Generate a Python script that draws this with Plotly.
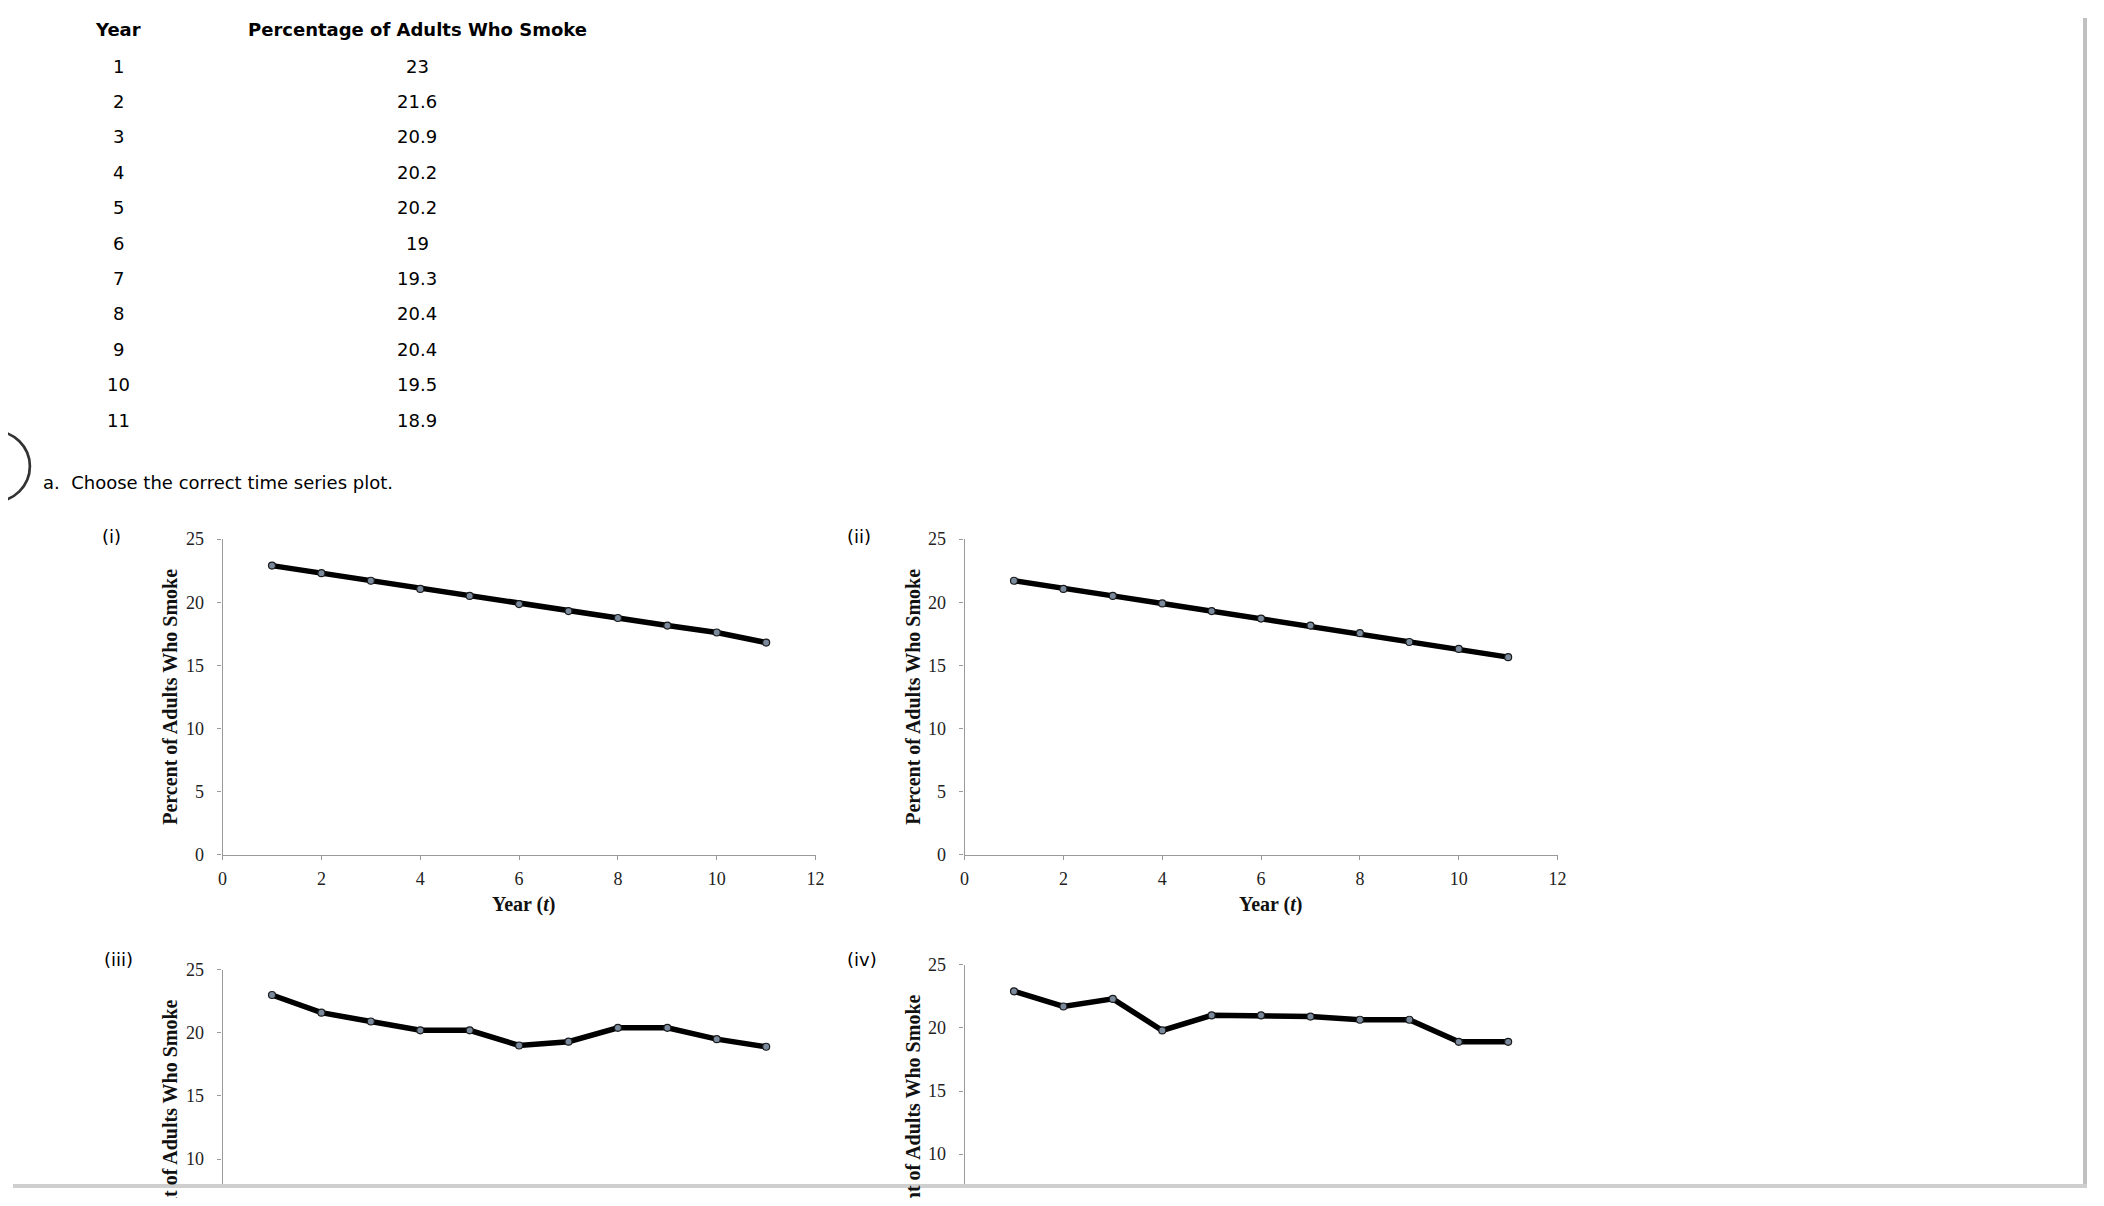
import plotly.graph_objects as go

# page is 2104x1206; the browser body keeps an 8px margin, so the figure is
# 16px smaller and every pixel position below is a page position.
PAGE_W, PAGE_H = 2104, 1206
OFF = 8
W, H = PAGE_W - 2 * OFF, PAGE_H - 2 * OFF

# ---------------- data ----------------
years = [1, 2, 3, 4, 5, 6, 7, 8, 9, 10, 11]
table_pct = ["23", "21.6", "20.9", "20.2", "20.2", "19", "19.3", "20.4", "20.4", "19.5", "18.9"]

plot_i = [22.9, 22.3, 21.7, 21.05, 20.5, 19.85, 19.3, 18.75, 18.15, 17.6, 16.8]
plot_ii = [21.7, 21.05, 20.5, 19.9, 19.3, 18.7, 18.15, 17.55, 16.85, 16.3, 15.65]
plot_iii = [23.0, 21.6, 20.9, 20.2, 20.2, 19.0, 19.3, 20.4, 20.4, 19.5, 18.9]
plot_iv = [22.9, 21.7, 22.3, 19.8, 21.0, 21.0, 20.9, 20.65, 20.65, 18.9, 18.9]

x_ticks = [0, 2, 4, 6, 8, 10, 12]
y_ticks = [0, 5, 10, 15, 20, 25]

header_year = "Year"
header_pct = "Percentage of Adults Who Smoke"
question = "a.  Choose the correct time series plot."
option_labels = ["(i)", "(ii)", "(iii)", "(iv)"]
y_title = "Percent of Adults Who Smoke"
x_title = "<b>Year (<i>t</i>)</b>"


def px(x):
    return (x - OFF) / W


def py(y):
    return 1 - (y - OFF) / H


fig = go.Figure()

series = [plot_i, plot_ii, plot_iii, plot_iv]
for k, vals in enumerate(series):
    ax = "" if k == 0 else str(k + 1)
    fig.add_trace(go.Scatter(
        x=years, y=vals, mode="lines+markers",
        xaxis="x" + ax, yaxis="y" + ax,
        line=dict(color="#000000", width=5.5),
        marker=dict(symbol="circle", size=7, color="#7a8a9c",
                    line=dict(color="#1a1a1a", width=1.2)),
        showlegend=False, hoverinfo="skip", cliponaxis=False,
    ))

tick_font = dict(family="Liberation Serif, Times New Roman, serif", size=18, color="#222222")
axis_common = dict(showgrid=False, zeroline=False, showline=True,
                   linecolor="#9a9a9a", linewidth=1.2, ticks="outside",
                   ticklen=4, tickcolor="#9a9a9a", tickwidth=1.2,
                   tickfont=tick_font, fixedrange=True)

# pixel geometry of each panel on the page: (x_left, x_right, y_top_for_25, y_bottom)
bottom = PAGE_H - OFF
panels = [
    (219, 816, 538, 859),
    (966, 1563, 538, 859),
    (219, 816, 976, bottom),
    (966, 1563, 971, bottom),
]
unit = (859 - 538) / 25.0

layout = dict(width=W, height=H, margin=dict(l=0, r=0, t=0, b=0),
              paper_bgcolor="white", plot_bgcolor="white", showlegend=False)

for k, (xl, xr, yt, yb) in enumerate(panels):
    ax = "" if k == 0 else str(k + 1)
    ymin = 25 - (yb - yt) / unit
    xa = dict(axis_common, domain=[px(xl), px(xr)], range=[0, 12],
              tickvals=x_ticks, anchor="y" + ax, ticklabelstandoff=4)
    ya = dict(axis_common, domain=[py(yb), py(yt)], range=[ymin, 25],
              tickvals=y_ticks, anchor="x" + ax, ticklabelstandoff=10)
    if k >= 2:
        xa.update(showline=False, showticklabels=False, ticks="")
    layout["xaxis" + ax] = xa
    layout["yaxis" + ax] = ya

fig.update_layout(**layout)

sans = "DejaVu Sans, Verdana, sans-serif"
serif = "Liberation Serif, Times New Roman, serif"
ann = []


def add_text(x, y, text, font, xanchor="center", angle=0):
    ann.append(dict(x=px(x), y=py(y), xref="paper", yref="paper", text=text,
                    showarrow=False, xanchor=xanchor, yanchor="middle",
                    textangle=angle, font=font))


f_sans = dict(family=sans, size=18, color="#000")
# table
add_text(114, 20, "<b>" + header_year + "</b>", f_sans)
add_text(415, 20, "<b>" + header_pct + "</b>", f_sans)
for i, (yr, pv) in enumerate(zip(years, table_pct)):
    yy = 57 + i * 36
    add_text(114, yy, str(yr), f_sans)
    add_text(415, yy, pv, f_sans)
add_text(36, 480, question, f_sans, xanchor="left")

# option labels
label_pos = [(107, 535), (860, 535), (114, 966), (863, 966)]
for lab, (lx, ly) in zip(option_labels, label_pos):
    add_text(lx, ly, lab, f_sans)

# axis titles
f_serif = dict(family=serif, size=20, color="#111")
ytitle_pos = [(166, 698.5), (914, 698.5), (166, 976 + 12.5 * unit), (914, 971 + 12.5 * unit)]
for (tx, ty) in ytitle_pos:
    add_text(tx, ty, "<b>" + y_title + "</b>", f_serif, angle=-90)
for tx in (522, 1274):
    add_text(tx, 910, x_title, f_serif)

fig.update_layout(annotations=ann)

shapes = [
    dict(type="circle", xref="paper", yref="paper",
         x0=px(-11 - 36), x1=px(-11 + 36), y0=py(464 + 36), y1=py(464 - 36),
         line=dict(color="#333333", width=2.7)),
    dict(type="rect", xref="paper", yref="paper", x0=px(PAGE_W - OFF - 4), x1=1, y0=0, y1=1,
         fillcolor="#c0c0c0", line=dict(width=0)),
    dict(type="rect", xref="paper", yref="paper", x0=0, x1=1, y0=0, y1=py(PAGE_H - OFF - 4),
         fillcolor="#cfcfcf", line=dict(width=0)),
]
fig.update_layout(shapes=shapes)

fig.write_html("out.html", config={"displayModeBar": False})
